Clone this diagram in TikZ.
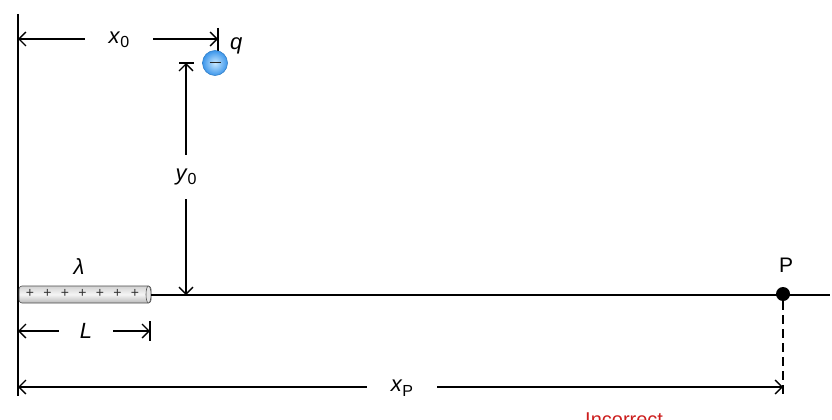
\documentclass[tikz,border=0pt]{standalone}
\usepackage{fontspec}
\setmainfont{Liberation Sans}
\usetikzlibrary{arrows.meta,shapes.geometric}
\definecolor{errred}{RGB}{204,30,30}
\definecolor{chargeblue}{RGB}{60,150,235}
\definecolor{chargelight}{RGB}{200,232,255}
\newcommand{\subsc}[1]{\raisebox{-0.2em}{\fontsize{16}{16}\selectfont #1}}
\begin{document}
\begin{tikzpicture}[x=1pt,y=-1pt,
  line/.style={line width=1.4pt},
  dimarrow/.style={line width=1.3pt,-{Straight Barb[length=7pt,width=14pt,line width=1.3pt]}},
  tickline/.style={line width=1.3pt},
  lbl/.style={font=\fontsize{22}{24}\selectfont,inner sep=0pt},
  plbl/.style={font=\fontsize{21}{23}\selectfont,inner sep=0pt}]
\useasboundingbox (0,0) rectangle (832,420);
\clip (0,0) rectangle (832,420);
% left wall
\coordinate (wt) at (18,14);
\coordinate (wb) at (18,396);
\draw[line] (wt) -- (wb);
% x0 dimension
\node[lbl,minimum width=68pt,minimum height=20pt] (x0) at (119,40) {\textit{x}\subsc{0}};
\coordinate (x0l) at (18,39);
\coordinate (x0r) at (218,39);
\coordinate (x0t1) at (218,28);
\coordinate (x0t2) at (218,51);
\draw[dimarrow] (x0.west |- x0l) -- (x0l);
\draw[dimarrow] (x0.east |- x0r) -- (x0r);
\draw[tickline] (x0t1) -- (x0t2);
% charge
\shade[inner color=chargelight,outer color=chargeblue] (215,63) circle (12.5);
\node[circle,minimum size=25pt,draw=chargeblue!85!black,line width=0.6pt,inner sep=0pt] (q) at (215,63) {};
\draw[line width=1pt,black!85] (209.5,62.5) -- (220.5,62.5);
\node[lbl,anchor=west] (ql) at (230,46) {\textit{q}};
% y0 dimension
\node[lbl,minimum width=20pt,minimum height=44pt] (y0) at (186,177) {\textit{y}\subsc{0}};
\coordinate (y0t) at (186,63);
\coordinate (y0b) at (186,295);
\coordinate (y0k1) at (179,63);
\coordinate (y0k2) at (194,63);
\draw[dimarrow] (y0.north) -- (y0t);
\draw[dimarrow] (y0.south) -- (y0b);
\draw[tickline] (y0k1) -- (y0k2);
% rod
\shade[top color=gray!35,bottom color=gray!55,middle color=gray!8,rounded corners=3pt]
  (19,286) rectangle (151,303);
\draw[gray!60!black,line width=0.6pt,rounded corners=3pt] (19,286) rectangle (151,303);
\draw[gray!60!black,line width=0.6pt,fill=gray!20] (148.5,294.5) ellipse[x radius=2.5,y radius=8.5];
\foreach \px in {30,47.5,65,82.5,100,117.5,135}
  \node[font=\fontsize{14}{14}\selectfont,text=black!80,inner sep=0pt] at (\px,293.5) {+};
\node[lbl] (lam) at (79,267) {\textit{λ}};
% axis
\coordinate (ax0) at (151,295);
\coordinate (ax1) at (830,295);
\draw[line] (ax0) -- (ax1);
% L dimension
\node[lbl,minimum width=54pt,minimum height=20pt] (L) at (86,331) {\textit{L}};
\coordinate (Ll) at (18,331);
\coordinate (Lr) at (150,331);
\coordinate (Lt1) at (150,321);
\coordinate (Lt2) at (150,341);
\draw[dimarrow] (L.west) -- (Ll);
\draw[dimarrow] (L.east) -- (Lr);
\draw[tickline] (Lt1) -- (Lt2);
% point P
\node[circle,fill=black,minimum size=14pt,inner sep=0pt] (P) at (783,294) {};
\node[plbl] (Pl) at (786,265) {P};
\coordinate (Pb) at (783,397);
\draw[line,dash pattern=on 9pt off 5pt] (P.south) -- (Pb);
% xP dimension
\node[lbl,minimum width=70pt,minimum height=20pt] (xP) at (402,388) {\textit{x}\subsc{P}};
\coordinate (xPl) at (18,387);
\coordinate (xPr) at (783,387);
\draw[dimarrow] (xP.west |- xPl) -- (xPl);
\draw[dimarrow] (xP.east |- xPr) -- (xPr);
% cut-off status text
\node[font=\fontsize{20}{22}\selectfont,text=errred,anchor=base west,inner sep=0pt] (inc) at (585,426) {Incorrect};
\end{tikzpicture}
\end{document}
